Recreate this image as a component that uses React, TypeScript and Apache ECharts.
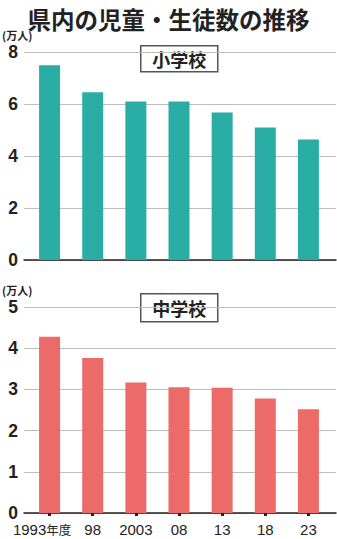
import React, { useEffect, useRef } from "react";
import * as echarts from "echarts";

const years = ["1993年度", "98", "2003", "08", "13", "18", "23"];
const elementary = [7.49, 6.45, 6.1, 6.1, 5.67, 5.1, 4.63];
const juniorHigh = [4.28, 3.76, 3.17, 3.05, 3.04, 2.78, 2.52];
const elemAxis = { min: 0, max: 8, interval: 2 };
const juniorAxis = { min: 0, max: 5, interval: 1 };
const title = "県内の児童・生徒数の推移";
const unit = "(万人)";
const panelNames = ["小学校", "中学校"];

const TEAL = "#2aada5";
const RED = "#ec6a67";
const GRID = "#bdbdbd";
const DARK = "#222";

export default function App() {
  const ref = useRef<HTMLDivElement>(null);
  useEffect(() => {
    if (!ref.current) return;
    const chart = echarts.init(ref.current, null, { renderer: "svg" });
    const wideTop = { left: 24, right: 1, top: 52, height: 208 };
    const barTop = { left: 28, right: 7, top: 52, height: 208 };
    const wideBot = { left: 24, right: 1, top: 307, height: 206 };
    const barBot = { left: 28, right: 7, top: 307, height: 206 };
    const yLabel = {
      fontFamily: "Liberation Sans, Arial, sans-serif",
      fontWeight: "bold",
      fontSize: 17.5,
      lineHeight: 13,
      color: DARK,
      margin: 6,
    };
    const wideY = (ax: any) => ({
      type: "value",
      ...ax,
      axisLine: { show: false },
      axisTick: { show: false },
      splitLine: { show: true, lineStyle: { color: GRID, width: 1 } },
      axisLabel: yLabel,
    });
    const hiddenY = (ax: any) => ({
      type: "value",
      ...ax,
      show: false,
      splitLine: { show: false },
    });
    const wideX = {
      type: "value",
      min: 0,
      max: 1,
      axisLine: { show: true, lineStyle: { color: DARK, width: 1.5 } },
      axisTick: { show: false },
      axisLabel: { show: false },
      splitLine: { show: false },
    };
    const labelFont = "'Liberation Sans', Arial, sans-serif";
    const cjk = "'Noto Sans CJK JP', sans-serif";
    chart.setOption({
      animation: false,
      title: {
        text: title,
        left: "center",
        top: 0,
        textStyle: {
          fontFamily: cjk,
          fontWeight: "bold",
          fontSize: 23.5,
          lineHeight: 27,
          color: DARK,
        },
      },
      grid: [wideTop, barTop, wideBot, barBot],
      xAxis: [
        { ...wideX, gridIndex: 0 },
        {
          type: "category",
          gridIndex: 1,
          data: years,
          axisLine: { show: false },
          axisTick: { show: false },
          axisLabel: { show: false },
        },
        { ...wideX, gridIndex: 2 },
        {
          type: "category",
          gridIndex: 3,
          data: years,
          offset: 3,
          axisLine: { show: false },
          axisTick: {
            show: true,
            alignWithLabel: true,
            length: 3,
            lineStyle: { color: DARK, width: 3 },
          },
          axisLabel: {
            margin: 6,
            fontFamily: labelFont,
            fontSize: 15,
            lineHeight: 15,
            color: DARK,
            interval: 0,
            formatter: (v: string, i: number) => {
              if (i === 0) {
                const m = v.match(/^(\d+)(.*)$/);
                if (m) return "{n|" + m[1] + "}{u|" + m[2] + "}";
              }
              return v;
            },
            rich: {
              n: {
                fontFamily: labelFont,
                fontSize: 15,
                lineHeight: 15,
                color: DARK,
              },
              u: {
                fontFamily: cjk,
                fontSize: 12.5,
                lineHeight: 15,
                color: DARK,
                padding: [0, 15, 0, 0],
              },
            },
          },
        },
      ],
      yAxis: [
        { ...wideY(elemAxis), gridIndex: 0 },
        { ...hiddenY(elemAxis), gridIndex: 1 },
        { ...wideY(juniorAxis), gridIndex: 2 },
        { ...hiddenY(juniorAxis), gridIndex: 3 },
      ],
      series: [
        {
          type: "bar",
          xAxisIndex: 1,
          yAxisIndex: 1,
          data: elementary,
          barWidth: 21,
          itemStyle: { color: TEAL },
        },
        {
          type: "bar",
          xAxisIndex: 3,
          yAxisIndex: 3,
          data: juniorHigh,
          barWidth: 21,
          itemStyle: { color: RED },
        },
      ],
      graphic: [
        {
          type: "text",
          left: 2,
          top: 29,
          style: {
            text: unit,
            fontFamily: cjk,
            fontSize: 11,
            lineHeight: 12,
            fontWeight: "bold",
            fill: DARK,
          },
        },
        {
          type: "text",
          left: 2,
          top: 284,
          style: {
            text: unit,
            fontFamily: cjk,
            fontSize: 11,
            lineHeight: 12,
            fontWeight: "bold",
            fill: DARK,
          },
        },
        {
          type: "group",
          left: 140,
          top: 45,
          children: [
            {
              type: "rect",
              shape: { x: 0, y: 0, width: 77, height: 26 },
              style: { fill: "#fff", stroke: "#555", lineWidth: 1.5 },
            },
            {
              type: "text",
              x: 38.5,
              y: 13,
              style: {
                text: panelNames[0],
                align: "center",
                verticalAlign: "middle",
                fontFamily: cjk,
                fontWeight: "bold",
                fontSize: 18,
                fill: DARK,
              },
            },
          ],
        },
        {
          type: "group",
          left: 140,
          top: 293,
          children: [
            {
              type: "rect",
              shape: { x: 0, y: 0, width: 77, height: 28 },
              style: { fill: "#fff", stroke: "#555", lineWidth: 1.5 },
            },
            {
              type: "text",
              x: 38.5,
              y: 14,
              style: {
                text: panelNames[1],
                align: "center",
                verticalAlign: "middle",
                fontFamily: cjk,
                fontWeight: "bold",
                fontSize: 18,
                fill: DARK,
              },
            },
          ],
        },
      ],
    });
    return () => chart.dispose();
  }, []);
  return (
    <div
      ref={ref}
      style={{ position: "fixed", left: 0, top: 0, width: 337, height: 539, background: "#fff" }}
    />
  );
}
